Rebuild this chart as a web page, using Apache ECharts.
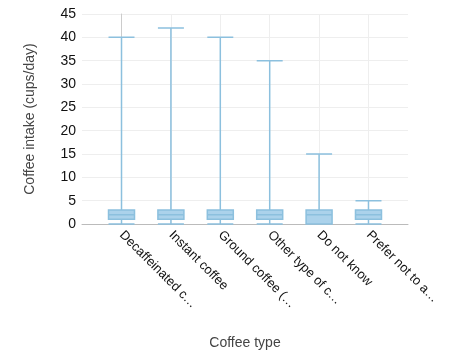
<!DOCTYPE html>
<html><head><meta charset="utf-8">
<script src="https://cdn.jsdelivr.net/npm/echarts@6/dist/echarts.min.js"></script>
<style>html,body{margin:0;padding:0;background:#fff}#c{width:474px;height:361px}</style>
</head><body><div id="c"></div>
<script>
const categories = ["Decaffeinated c…", "Instant coffee", "Ground coffee (…", "Other type of c…", "Do not know", "Prefer not to a…"];
const mins = [0, 0, 0, 0, 0, 0];
const q1s = [1, 1, 1, 1, 0, 1];
const medians = [2, 2, 2, 2, 2, 2];
const q3s = [3, 3, 3, 3, 3, 3];
const maxs = [40, 42, 40, 35, 15, 5];
const yTicks = [0, 5, 10, 15, 20, 25, 30, 35, 40, 45];

const data = categories.map((c, i) => [i, mins[i], q1s[i], medians[i], q3s[i], maxs[i]]);
const chart = echarts.init(document.getElementById('c'));
chart.setOption({
  animation: false,
  grid: {left: 82, right: 66, top: 14, bottom: 137},
  xAxis: {
    type: 'value', min: -0.8, max: 5.8,
    name: 'Coffee type', nameLocation: 'middle', nameGap: 112,
    nameTextStyle: {color: '#444', fontSize: 14, fontFamily: 'Liberation Sans'},
    axisLine: {show: true, lineStyle: {color: '#bbb'}},
    axisTick: {show: false},
    splitLine: {show: true, showMinLine: false, showMaxLine: false, lineStyle: {color: '#eee'}},
    axisLabel: {
      rotate: -45, color: '#111', fontSize: 13, fontFamily: 'Liberation Sans', margin: 9,
      showMinLabel: false, showMaxLabel: false,
      formatter: v => Number.isInteger(v) && categories[v] !== undefined ? categories[v] : ''
    }
  },
  yAxis: {
    type: 'value', min: yTicks[0], max: yTicks[yTicks.length - 1], interval: 5,
    name: 'Coffee intake (cups/day)', nameLocation: 'middle', nameGap: 45,
    nameTextStyle: {color: '#444', fontSize: 14, fontFamily: 'Liberation Sans'},
    axisLine: {show: true, lineStyle: {color: '#ccc'}},
    axisTick: {show: false},
    splitLine: {lineStyle: {color: '#eee'}},
    axisLabel: {color: '#111', fontSize: 14, fontFamily: 'Liberation Sans', margin: 6}
  },
  series: [{
    type: 'boxplot',
    boxWidth: [26, 26],
    itemStyle: {color: '#abd2eb', borderColor: '#8cc0de', borderWidth: 1.5},
    data: data
  }]
});
</script></body></html>
